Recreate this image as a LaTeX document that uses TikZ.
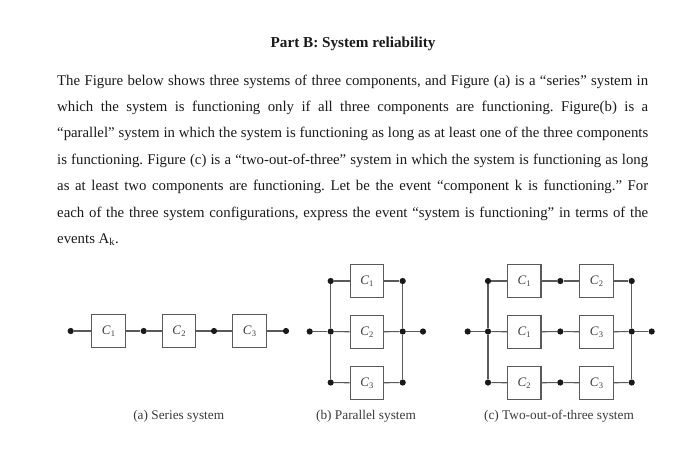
\documentclass[tikz,border=0pt]{standalone}
\usepackage{fontspec}
\setmainfont{Liberation Serif}
\definecolor{wire}{HTML}{5A5A5A}
\definecolor{ink}{HTML}{1A1A1A}
\definecolor{capink}{HTML}{3A3A3A}
\newcommand{\comp}[1]{\textit{C}\raisebox{-2pt}{\fontsize{8.5}{10}\selectfont #1}}
\frenchspacing
\begin{document}
\begin{tikzpicture}[
    x=1pt,y=-1pt,
    box/.style={rectangle,draw=wire,line width=1.1pt,fill=white,minimum size=33.5pt,inner sep=0pt,font=\fontsize{13}{15}\selectfont,text=capink},
    dot/.style={circle,fill=black!90,inner sep=0pt,minimum size=6.2pt},
    textline/.style={anchor=base west,inner sep=0pt,font=\fontsize{14.8}{16}\selectfont,text=ink},
    caption/.style={anchor=base,inner sep=0pt,font=\fontsize{13.3}{15}\selectfont,text=capink},
    wireline/.style={draw=wire,line width=1.1pt}
]
\useasboundingbox[fill=white] (0,0) rectangle (700,459);

% Text
\node[textline,anchor=base,font=\fontsize{15.2}{16}\selectfont\bfseries] (title) at (353,47) {Part B: System reliability};
\node[textline] (line1) at (57,85) {\makebox[591pt][s]{The Figure below shows three systems of three components, and Figure (a) is a “series” system in}};
\node[textline] (line2) at (57,111) {\makebox[591pt][s]{which the system is functioning only if all three components are functioning. Figure(b) is a}};
\node[textline] (line3) at (57,137) {\makebox[591pt][s]{“parallel” system in which the system is functioning as long as at least one of the three components}};
\node[textline] (line4) at (57,164) {\makebox[591pt][s]{is functioning. Figure (c) is a “two-out-of-three” system in which the system is functioning as long}};
\node[textline] (line5) at (57,190) {\makebox[591pt][s]{as at least two components are functioning. Let be the event “component k is functioning.” For}};
\node[textline] (line6) at (57,217) {\makebox[591pt][s]{each of the three system configurations, express the event “system is functioning” in terms of the}};
\node[textline] (line7) at (57,243) {events A\textsubscript{k}.};

% (a) Series
\node[box] (a1) at (108.5,331) {\comp{1}};
\node[box] (a2) at (179,331) {\comp{2}};
\node[box] (a3) at (249.5,331) {\comp{3}};
\node[dot] (ain) at (70.7,331) {};
\node[dot] (a12) at (143.7,331) {};
\node[dot] (a23) at (214,331) {};
\node[dot] (aout) at (286,331) {};
\draw[wireline] (ain) -- (a1);
\draw[wireline] (a1) -- (a12);
\draw[wireline] (a12) -- (a2);
\draw[wireline] (a2) -- (a23);
\draw[wireline] (a23) -- (a3);
\draw[wireline] (a3) -- (aout);
\node[caption] (acap) at (178.7,419) {(a) Series system};

% (b) Parallel
\node[box] (b1) at (366.8,281) {\comp{1}};
\node[box] (b2) at (366.8,332) {\comp{2}};
\node[box] (b3) at (366.8,383) {\comp{3}};
\node[dot] (bin) at (309.7,331.5) {};
\node[dot] (bl1) at (330.7,281) {};
\node[dot] (bl2) at (330.7,331.5) {};
\node[dot] (bl3) at (330.7,382.5) {};
\node[dot] (br1) at (402.7,281) {};
\node[dot] (br2) at (402.7,331.5) {};
\node[dot] (br3) at (402.7,382.5) {};
\node[dot] (bout) at (423,331.5) {};
\draw[wireline] (bl1) -- (bl2);
\draw[wireline] (bl2) -- (bl3);
\draw[wireline] (br1) -- (br2);
\draw[wireline] (br2) -- (br3);
\draw[wireline] (bin) -- (bl2);
\draw[wireline] (br2) -- (bout);
\draw[wireline] (bl1) -- (b1);
\draw[wireline] (b1) -- (br1);
\draw[wireline] (bl2) -- (b2);
\draw[wireline] (b2) -- (br2);
\draw[wireline] (bl3) -- (b3);
\draw[wireline] (b3) -- (br3);
\node[caption] (bcap) at (366,419) {(b) Parallel system};

% (c) Two-out-of-three
\node[box] (c11) at (524.2,281) {\comp{1}};
\node[box] (c12) at (596.5,281) {\comp{2}};
\node[box] (c21) at (524.2,332) {\comp{1}};
\node[box] (c22) at (596.5,332) {\comp{3}};
\node[box] (c31) at (524.2,383) {\comp{2}};
\node[box] (c32) at (596.5,383) {\comp{3}};
\node[dot] (cin) at (467.7,331.5) {};
\node[dot] (cl1) at (488,281) {};
\node[dot] (cl2) at (488,331.5) {};
\node[dot] (cl3) at (488,382.5) {};
\node[dot] (cm1) at (560.3,281) {};
\node[dot] (cm2) at (560.3,331.5) {};
\node[dot] (cm3) at (560.3,382.5) {};
\node[dot] (cr1) at (631.7,281) {};
\node[dot] (cr2) at (631.7,331.5) {};
\node[dot] (cr3) at (631.7,382.5) {};
\node[dot] (cout) at (651.7,331.5) {};
\draw[wireline] (cl1) -- (cl2);
\draw[wireline] (cl2) -- (cl3);
\draw[wireline] (cr1) -- (cr2);
\draw[wireline] (cr2) -- (cr3);
\draw[wireline] (cin) -- (cl2);
\draw[wireline] (cr2) -- (cout);
\draw[wireline] (cl1) -- (c11);
\draw[wireline] (c11) -- (cm1);
\draw[wireline] (cm1) -- (c12);
\draw[wireline] (c12) -- (cr1);
\draw[wireline] (cl2) -- (c21);
\draw[wireline] (c21) -- (cm2);
\draw[wireline] (cm2) -- (c22);
\draw[wireline] (c22) -- (cr2);
\draw[wireline] (cl3) -- (c31);
\draw[wireline] (c31) -- (cm3);
\draw[wireline] (cm3) -- (c32);
\draw[wireline] (c32) -- (cr3);
\node[caption] (ccap) at (559,419) {(c) Two-out-of-three system};

\end{tikzpicture}
\end{document}
